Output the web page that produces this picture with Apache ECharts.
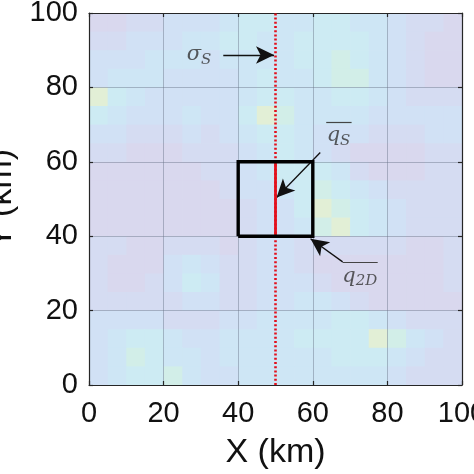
<!DOCTYPE html>
<html>
<head>
<meta charset="utf-8">
<script src="https://cdn.jsdelivr.net/npm/echarts@6/dist/echarts.min.js"></script>
<style>
html,body{margin:0;padding:0;background:#fff;}
#chart{width:474px;height:474px;}
</style>
</head>
<body>
<div id="chart"></div>
<script>
// ---- data ----
const xTicks = [0, 20, 40, 60, 80, 100];
const yTicks = [0, 20, 40, 60, 80, 100];
const cellKm = 5;
// background field, rows from top (Y 95-100) to bottom (Y 0-5), columns X 0-5 ... 95-100
const field = [
  [1,1,2,2,3,3,3,4,5,5,4,4,5,5,4,4,3,2,2,1],
  [2,2,3,3,3,4,4,5,5,4,4,5,5,5,5,4,3,2,1,1],
  [3,3,3,4,4,4,3,4,4,4,4,5,5,6,5,4,3,2,1,1],
  [3,4,4,4,3,3,3,3,4,5,4,4,5,6,6,4,3,2,1,1],
  [7,5,4,3,3,3,3,3,4,5,5,4,4,5,5,4,3,2,2,2],
  [5,4,3,3,3,4,3,3,5,7,6,4,4,4,4,3,3,3,3,3],
  [3,3,2,2,2,3,2,3,4,5,5,4,3,3,3,2,2,2,3,3],
  [2,2,1,1,1,2,2,2,3,4,5,4,3,2,1,1,1,1,2,2],
  [1,1,1,1,1,1,2,2,3,4,5,5,5,4,2,1,1,1,2,2],
  [1,1,1,1,1,1,1,2,3,3,4,5,6,5,4,3,2,2,2,2],
  [1,1,1,1,1,1,1,1,2,3,3,5,7,6,5,4,3,2,2,2],
  [1,1,1,1,1,1,1,1,2,3,3,4,6,7,5,4,3,2,2,2],
  [2,2,1,1,2,2,2,1,2,3,3,2,2,2,2,2,2,1,1,2],
  [2,1,1,1,3,4,3,2,2,3,3,2,1,1,1,1,1,1,1,2],
  [2,1,1,2,3,5,4,2,2,3,3,3,2,1,1,1,1,1,1,2],
  [2,2,2,2,2,3,3,2,2,3,3,4,4,3,2,1,1,1,1,1],
  [3,3,3,3,2,2,2,3,3,4,4,4,4,5,5,4,3,2,2,2],
  [3,4,5,5,4,3,3,4,4,4,4,5,5,5,5,7,6,4,3,2],
  [3,4,6,5,4,4,3,4,4,4,4,4,4,5,5,5,4,3,2,2],
  [3,4,5,5,6,4,3,3,4,4,4,4,4,4,4,4,3,2,2,2]
];
const sigmaLine = [[50, 0], [50, 100]];
const solidSegment = [[50, 40], [50, 60]];
const boxCorners = [[40, 40], [60, 40], [60, 60], [40, 60], [40, 40]];
const sigmaArrow = [[36, 88.7], [49.6, 88.7]];
const qsArrow = [[62, 62.5], [50.3, 50.4]];
const q2dArrow = [[68, 33.1], [59.4, 39.3]];
const qsOverline = [[63.6, 70.5], [70.4, 70.5]];
const q2dOverline = [[68.0, 33.1], [77.4, 33.1]];
const labelSigma = [29.5, 88.7];
const labelQs = [66.9, 67.0];
const labelQ2d = [72.6, 29.2];

// ---- build ----
const nRows = field.length;
const cells = [];
field.forEach((row, r) => {
  row.forEach((v, c) => {
    cells.push([c * cellKm, (nRows - 1 - r) * cellKm, v]);
  });
});

const chart = echarts.init(document.getElementById('chart'));
const font = 'Liberation Sans, Arial, sans-serif';
const serif = 'DejaVu Serif, Liberation Serif, serif';

function axisCommon(extra) {
  return Object.assign({
    type: 'value', min: 0, max: 100, interval: 20,
    axisLine: {show: true, onZero: false, lineStyle: {color: '#262626', width: 1.2}},
    axisTick: {show: true, inside: true, length: 4, lineStyle: {color: '#262626', width: 1.2}},
    splitLine: {show: false},
    z: 3
  }, extra);
}

const annoLabel = (txt) => ({
  show: true, position: 'inside', formatter: txt, color: '#333',
  rich: {
    b: {fontFamily: serif, fontStyle: 'italic', fontSize: 21, color: '#333'},
    s: {fontFamily: serif, fontStyle: 'italic', fontSize: 15, color: '#333', padding: [10, 0, 0, 0]}
  }
});

const option = {
  animation: false,
  grid: {left: 89, top: 13, width: 373, height: 372, containLabel: false, outerBoundsMode: 'none'},
  visualMap: {
    show: false, type: 'continuous', min: 0, max: 9, dimension: 2, seriesIndex: 0,
    inRange: {color: ['#dcd6ea','#d9d8ee','#d5dcf2','#d1e1f5','#cee6f5','#cdebf3','#d2eee8','#e2efd6','#e8efcc','#f2eec2']}
  },
  xAxis: [
    axisCommon({
      position: 'bottom',
      axisLabel: {show: true, fontSize: 29, color: '#111', fontFamily: font, margin: 14},
      splitLine: {show: true, lineStyle: {color: 'rgba(105,115,135,0.45)', width: 1}},
      name: 'X (km)', nameLocation: 'middle', nameGap: 51,
      nameTextStyle: {fontSize: 34, color: '#111', fontFamily: font}
    }),
    axisCommon({position: 'top', axisLabel: {show: false}})
  ],
  yAxis: [
    axisCommon({
      position: 'left',
      axisLabel: {show: true, fontSize: 29, color: '#111', fontFamily: font, margin: 11},
      splitLine: {show: true, lineStyle: {color: 'rgba(105,115,135,0.45)', width: 1}},
      name: 'Y (km)', nameLocation: 'middle', nameGap: 60,
      nameTextStyle: {fontSize: 34, color: '#111', fontFamily: font}
    }),
    axisCommon({position: 'right', axisLabel: {show: false}})
  ],
  series: [
    {
      type: 'custom', z: 1, clip: true, silent: true,
      xAxisIndex: 0, yAxisIndex: 0,
      data: cells,
      renderItem: function (params, api) {
        const x = api.value(0), y = api.value(1);
        const p = api.coord([x, y + cellKm]);
        const q = api.coord([x + cellKm, y]);
        return {
          type: 'rect',
          shape: {x: p[0], y: p[1], width: q[0] - p[0] + 0.7, height: q[1] - p[1] + 0.7},
          style: {fill: api.visual('color')}
        };
      }
    },
    {
      type: 'line', z: 6, silent: true, symbol: 'none', data: sigmaLine,
      lineStyle: {color: '#e3101c', width: 2.6, type: [2, 2.2]}
    },
    {
      type: 'line', z: 7, silent: true, symbol: 'none', data: solidSegment,
      lineStyle: {color: '#e3101c', width: 2.8}
    },
    {
      type: 'line', z: 8, silent: true, symbol: 'none', data: boxCorners,
      lineStyle: {color: '#000', width: 3.4, join: 'miter'}
    },
    {
      type: 'line', z: 9, silent: true, symbol: 'none', data: [],
      markLine: {
        silent: true, animation: false,
        symbol: ['none', 'arrow'], symbolSize: [13, 18],
        label: {show: false},
        lineStyle: {color: '#111', width: 1.3, type: 'solid'},
        data: [
          [{coord: sigmaArrow[0]}, {coord: sigmaArrow[1]}],
          [{coord: qsArrow[0]}, {coord: qsArrow[1]}],
          [{coord: q2dArrow[0]}, {coord: q2dArrow[1]}]
        ]
      }
    },
    {
      type: 'line', z: 9, silent: true, symbol: 'none', data: [],
      markLine: {
        silent: true, animation: false, symbol: ['none', 'none'],
        label: {show: false},
        lineStyle: {color: '#444', width: 1.2, type: 'solid'},
        data: [
          [{coord: qsOverline[0]}, {coord: qsOverline[1]}],
          [{coord: q2dOverline[0]}, {coord: q2dOverline[1]}]
        ]
      }
    },
    {
      type: 'scatter', z: 10, silent: true, symbolSize: 0,
      data: [
        {value: labelSigma, label: annoLabel('{b|σ}{s|S}')},
        {value: labelQs, label: annoLabel('{b|q}{s|S}')},
        {value: labelQ2d, label: annoLabel('{b|q}{s|2D}')}
      ]
    }
  ]
};
chart.setOption(option);
</script>
</body>
</html>
